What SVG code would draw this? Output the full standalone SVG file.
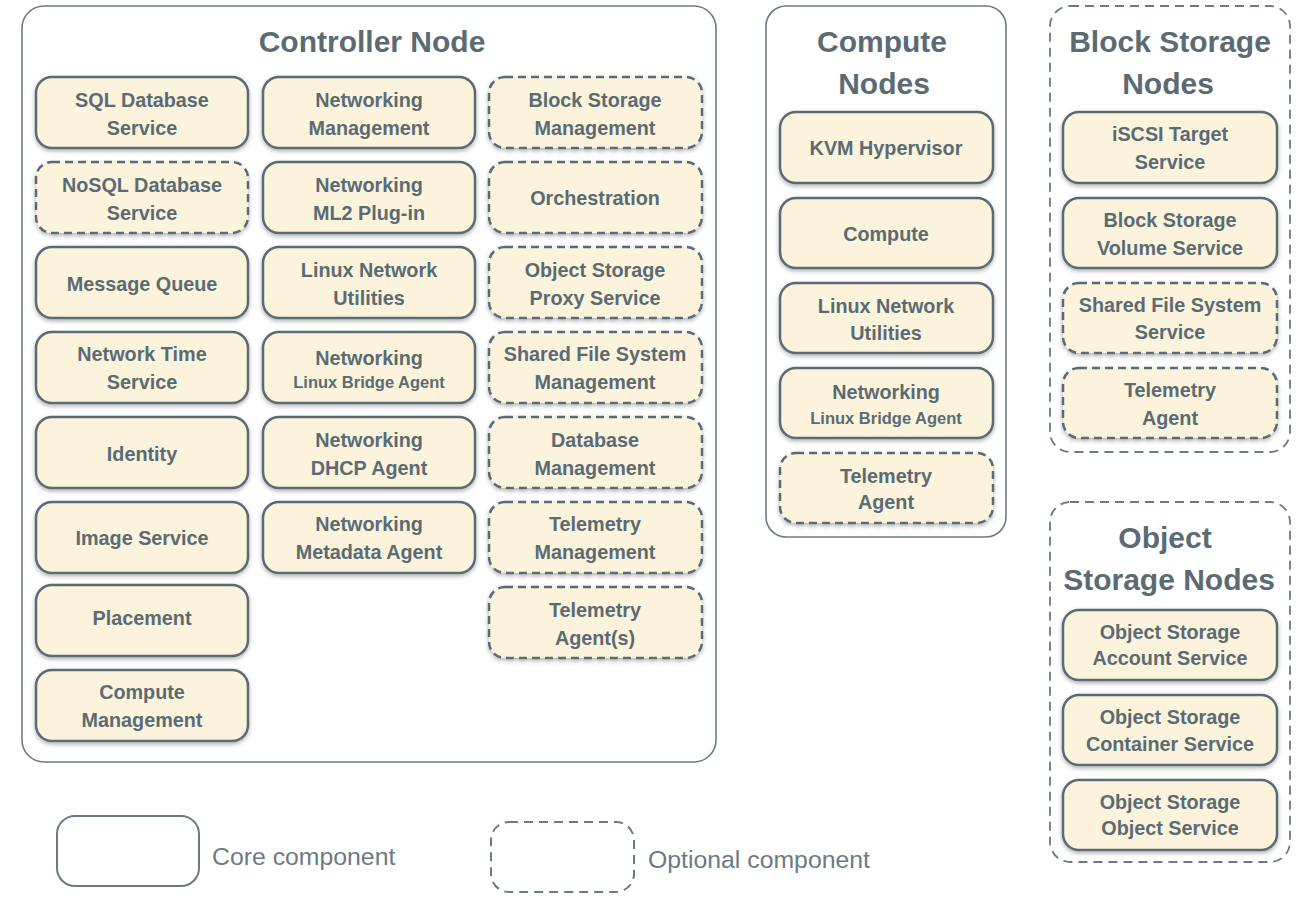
<svg xmlns="http://www.w3.org/2000/svg" width="1314" height="920" viewBox="0 0 1314 920">
<defs>
<filter id="sh" x="-10%" y="-10%" width="120%" height="130%">
<feDropShadow dx="0" dy="2" stdDeviation="2" flood-color="#000" flood-opacity="0.3"/>
</filter>
</defs>
<style>
.cont{fill:#fff;stroke:#6b7b84;stroke-width:1.6}
.contd{fill:#fff;stroke:#6b7b84;stroke-width:1.8;stroke-dasharray:9 6}
.box{fill:#fcf3dd;stroke:#5b6b73;stroke-width:2.5;filter:url(#sh)}
.opt{fill:#fcf3dd;stroke:#5b6b73;stroke-width:2.5;stroke-dasharray:8 5;filter:url(#sh)}
.t{font-family:"Liberation Sans",Arial,sans-serif;font-weight:bold;font-size:19.8px;fill:#5b6b73;text-anchor:middle}
.s{font-size:16.5px}
.h{font-family:"Liberation Sans",Arial,sans-serif;font-weight:bold;font-size:30px;fill:#5b6b73;text-anchor:middle}
.lg{font-family:"Liberation Sans",Arial,sans-serif;font-size:24.8px;fill:#6b7b84}
.lbox{fill:#fff;stroke:#6b7b84;stroke-width:2}
.lboxd{fill:#fff;stroke:#6b7b84;stroke-width:2;stroke-dasharray:9 6}
</style>

<g id="controller">
<rect class="cont" x="22" y="6" width="694" height="756" rx="22"/>
<text class="h" x="372" y="52">Controller Node</text>
</g>

<g id="sql"><rect class="box" x="36" y="77" width="212" height="71" rx="16"/><text class="t" x="142" y="107">SQL Database</text><text class="t" x="142" y="135">Service</text></g>
<g id="nosql"><rect class="opt" x="36" y="162" width="212" height="71" rx="16"/><text class="t" x="142" y="192">NoSQL Database</text><text class="t" x="142" y="220">Service</text></g>
<g id="mq"><rect class="box" x="36" y="247" width="212" height="71" rx="16"/><text class="t" x="142" y="291">Message Queue</text></g>
<g id="ntp"><rect class="box" x="36" y="332" width="212" height="71" rx="16"/><text class="t" x="142" y="361">Network Time</text><text class="t" x="142" y="389">Service</text></g>
<g id="identity"><rect class="box" x="36" y="417" width="212" height="71" rx="16"/><text class="t" x="142" y="461">Identity</text></g>
<g id="image"><rect class="box" x="36" y="502" width="212" height="71" rx="16"/><text class="t" x="142" y="545">Image Service</text></g>
<g id="placement"><rect class="box" x="36" y="585" width="212" height="71" rx="16"/><text class="t" x="142" y="625">Placement</text></g>
<g id="computemgmt"><rect class="box" x="36" y="670" width="212" height="71" rx="16"/><text class="t" x="142" y="699">Compute</text><text class="t" x="142" y="727">Management</text></g>

<g id="netmgmt"><rect class="box" x="263" y="77" width="212" height="71" rx="16"/><text class="t" x="369" y="107">Networking</text><text class="t" x="369" y="135">Management</text></g>
<g id="ml2"><rect class="box" x="263" y="162" width="212" height="71" rx="16"/><text class="t" x="369" y="192">Networking</text><text class="t" x="369" y="220">ML2 Plug-in</text></g>
<g id="linuxnet"><rect class="box" x="263" y="247" width="212" height="71" rx="16"/><text class="t" x="369" y="277">Linux Network</text><text class="t" x="369" y="305">Utilities</text></g>
<g id="lba"><rect class="box" x="263" y="332" width="212" height="71" rx="16"/><text class="t" x="369" y="365">Networking</text><text class="t s" x="369" y="388">Linux Bridge Agent</text></g>
<g id="dhcp"><rect class="box" x="263" y="417" width="212" height="71" rx="16"/><text class="t" x="369" y="447">Networking</text><text class="t" x="369" y="475">DHCP Agent</text></g>
<g id="metadata"><rect class="box" x="263" y="502" width="212" height="71" rx="16"/><text class="t" x="369" y="531">Networking</text><text class="t" x="369" y="559">Metadata Agent</text></g>

<g id="bsmgmt"><rect class="opt" x="489" y="77" width="213" height="71" rx="16"/><text class="t" x="595" y="107">Block Storage</text><text class="t" x="595" y="135">Management</text></g>
<g id="orch"><rect class="opt" x="489" y="162" width="213" height="71" rx="16"/><text class="t" x="595" y="205">Orchestration</text></g>
<g id="osproxy"><rect class="opt" x="489" y="247" width="213" height="71" rx="16"/><text class="t" x="595" y="277">Object Storage</text><text class="t" x="595" y="305">Proxy Service</text></g>
<g id="sfsmgmt"><rect class="opt" x="489" y="332" width="213" height="71" rx="16"/><text class="t" x="595" y="361">Shared File System</text><text class="t" x="595" y="389">Management</text></g>
<g id="dbmgmt"><rect class="opt" x="489" y="417" width="213" height="71" rx="16"/><text class="t" x="595" y="447">Database</text><text class="t" x="595" y="475">Management</text></g>
<g id="telmgmt"><rect class="opt" x="489" y="502" width="213" height="71" rx="16"/><text class="t" x="595" y="531">Telemetry</text><text class="t" x="595" y="559">Management</text></g>
<g id="telagents"><rect class="opt" x="489" y="587" width="213" height="71" rx="16"/><text class="t" x="595" y="617">Telemetry</text><text class="t" x="595" y="645">Agent(s)</text></g>

<g id="compute-nodes">
<rect class="cont" x="766" y="6" width="240" height="531" rx="20"/>
<text class="h" x="882" y="52">Compute</text>
<text class="h" x="884" y="94">Nodes</text>
</g>
<g id="kvm"><rect class="box" x="780" y="112" width="213" height="71" rx="16"/><text class="t" x="886" y="155">KVM Hypervisor</text></g>
<g id="compute"><rect class="box" x="780" y="198" width="213" height="70" rx="16"/><text class="t" x="886" y="241">Compute</text></g>
<g id="c-linuxnet"><rect class="box" x="780" y="283" width="213" height="70" rx="16"/><text class="t" x="886" y="313">Linux Network</text><text class="t" x="886" y="340">Utilities</text></g>
<g id="c-lba"><rect class="box" x="780" y="368" width="213" height="70" rx="16"/><text class="t" x="886" y="399">Networking</text><text class="t s" x="886" y="424">Linux Bridge Agent</text></g>
<g id="c-tel"><rect class="opt" x="780" y="453" width="213" height="70" rx="16"/><text class="t" x="886" y="483">Telemetry</text><text class="t" x="886" y="509">Agent</text></g>

<g id="block-nodes">
<rect class="contd" x="1050" y="6" width="240" height="446" rx="20"/>
<text class="h" x="1170" y="52">Block Storage</text>
<text class="h" x="1168" y="94">Nodes</text>
</g>
<g id="iscsi"><rect class="box" x="1063" y="112" width="214" height="71" rx="16"/><text class="t" x="1170" y="141">iSCSI Target</text><text class="t" x="1170" y="169">Service</text></g>
<g id="bsvol"><rect class="box" x="1063" y="198" width="214" height="70" rx="16"/><text class="t" x="1170" y="227">Block Storage</text><text class="t" x="1170" y="255">Volume Service</text></g>
<g id="sfs"><rect class="opt" x="1063" y="283" width="214" height="70" rx="16"/><text class="t" x="1170" y="312">Shared File System</text><text class="t" x="1170" y="339">Service</text></g>
<g id="b-tel"><rect class="opt" x="1063" y="368" width="214" height="70" rx="16"/><text class="t" x="1170" y="397">Telemetry</text><text class="t" x="1170" y="425">Agent</text></g>

<g id="object-nodes">
<rect class="contd" x="1050" y="502" width="240" height="360" rx="20"/>
<text class="h" x="1165" y="548">Object</text>
<text class="h" x="1169" y="590">Storage Nodes</text>
</g>
<g id="osacct"><rect class="box" x="1063" y="610" width="214" height="70" rx="16"/><text class="t" x="1170" y="639">Object Storage</text><text class="t" x="1170" y="665">Account Service</text></g>
<g id="oscont"><rect class="box" x="1063" y="695" width="214" height="70" rx="16"/><text class="t" x="1170" y="724">Object Storage</text><text class="t" x="1170" y="751">Container Service</text></g>
<g id="osobj"><rect class="box" x="1063" y="780" width="214" height="70" rx="16"/><text class="t" x="1170" y="809">Object Storage</text><text class="t" x="1170" y="835">Object Service</text></g>

<g id="legend-core">
<rect class="lbox" x="57" y="816" width="142" height="70" rx="18"/>
<text class="lg" x="212" y="865">Core component</text>
</g>
<g id="legend-optional">
<rect class="lboxd" x="491" y="822" width="143" height="70" rx="18"/>
<text class="lg" x="648" y="868">Optional component</text>
</g>

<g id="connectors"></g>
</svg>
